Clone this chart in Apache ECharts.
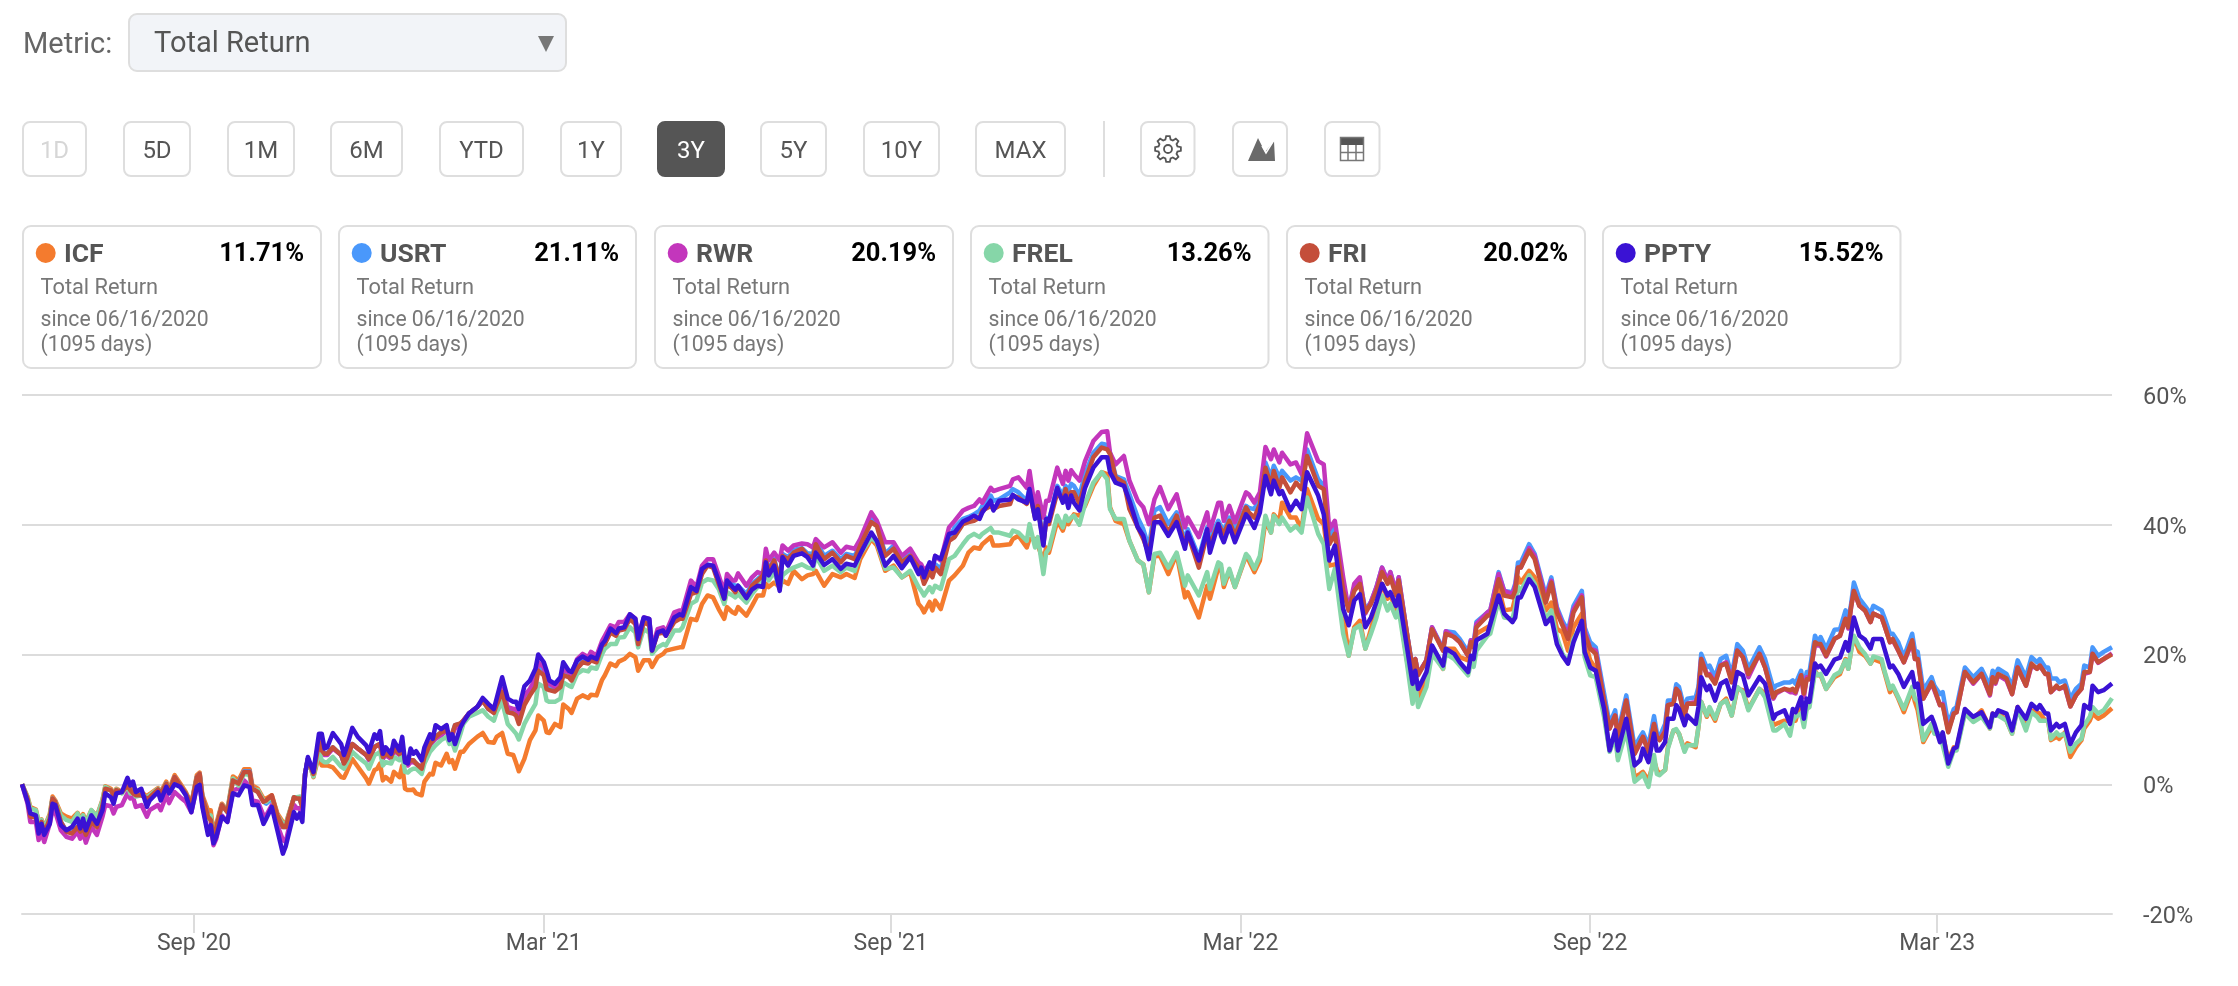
<!DOCTYPE html>
<html><head><meta charset="utf-8">
<style>html,body{margin:0;padding:0;background:#fff}#c{width:2238px;height:986px}</style>
<script src="https://cdn.jsdelivr.net/npm/echarts@6/dist/echarts.min.js"></script>
</head><body><div id="c"></div>
<script>
const sessions=[0,2,3,5,6,7,8,10,11,12,14,16,18,20,21,22,23,25,27,29,30,32,33,34,36,38,39,40,41,43,45,46,49,50,52,53,55,57,59,61,63,64,65,67,68,69,70,72,74,76,78,80,82,83,85,87,88,90,92,94,95,98,99,100,101,102,103,105,107,
108,109,110,112,115,116,117,119,121,124,125,127,128,129,130,131,133,134,136,137,138,139,140,141,142,144,145,147,148,149,151,153,154,155,156,158,159,161,164,166,168,170,171,173,175,177,178,179,181,183,185,186,188,189,190,192,194,195,197,198,200,202,204,205,207,209,210,212,214,215,
217,219,221,222,224,226,227,229,231,232,235,237,238,241,243,245,247,249,251,253,254,256,257,258,261,263,265,267,268,269,271,273,274,276,278,281,283,285,286,289,292,295,297,300,302,306,308,311,314,317,320,323,
324,325,327,328,329,331,334,336,339,341,343,345,346,349,350,352,356,357,359,362,363,365,366,368,369,370,373,375,376,377,378,379,381,383,386,389,391,392,394,397,399,402,404,406,408,410,413,416,419,420,424,427,428,431,
432,433,435,437,441,442,444,446,448,450,451,453,454,457,459,461,463,467,469,471,473,476,478,480,482,484,486,488,490,492,493,495,496,499,501,502,503,506,508,512,513,516,518,521,522,523,524,528,529,532,534,537,538,539,
540,543,545,549,551,553,555,557,559,562,563,565,567,570,572,574,575,578,581,583,584,586,588,589,590,592,593,595,596,597,599,600,603,604,605,607,608,610,612,614,616,618,620,622,626,628,631,632,635,637,638,639,641,642,643,644,646,647,
648,650,653,655,657,658,659,660,662,664,666,667,670,671,673,674,676,678,681,682,683,685,688,689,691,692,694,696,697,700,703,706,709,710,711,712,715,717,719,722,724,726,727,729,730,731,733,734,736,738,740,742,743,745,746,748,750,753];

const icf=[0,-1.9,-3.5,-3.9,-5.8,-5.4,-6.7,-4.6,-1.9,-2.5,-4.5,-5,-5.3,-4.4,-5.3,-4.6,-5.8,-4,-4.9,-2.4,-0.3,-0.7,-1.4,-0.7,-1.2,0.1,-0.4,-0.7,-1.4,-1.2,-1.9,-1.5,-0.6,-1.2,0.4,-0.8,1.4,0.1,-1.2,-3,1.4,1.8,-1.7,-4,-4,-7.6,-6.1,-3,-4,1.2,0.6,2.3,2.3,-0.2,-0.7,-2.2,-2.2,-1.7,-4.5,-5.8,-6.1,-2,-2,-2,-3.2,1.6,3.9,1.1,4.5,
2.9,2.9,2.9,2.6,1.1,1,1.9,3.9,2.7,0.9,0.1,2.2,2.4,3.2,0.6,1.1,0.4,1.9,1.1,2.9,-0.7,-0.9,-0.9,-0.8,-1.4,-1.7,0.4,1.6,1.5,3.3,2.9,4.7,3.4,3.7,2.4,5,5,6.2,7.3,7.9,6.5,6.4,7.3,7.9,4.7,4.5,3.3,2,3.9,6.8,8.3,10.6,9.8,8,7.9,9.3,8.8,12.3,11.6,11,13.2,13.7,13.3,13.8,13.7,16.1,16.8,18.6,18.2,18.9,
19.3,20.1,19.6,17.5,19.1,19.1,18.1,19.6,20.1,20.6,20.9,21.1,21.1,25.5,25.3,27.8,29.1,28.8,27,25.5,27.3,26.5,26.3,27.3,26,27.5,29.1,29.1,30.9,30.4,31.1,30.4,31.4,30.9,32.9,31.6,32.2,32.4,32.9,30.6,32.4,31.9,32.4,31.8,34.7,37.8,36.8,32.9,33.7,31.9,32.7,27.8,
27.3,26.5,28.1,26.8,28.3,27,31.4,32.2,33.7,35.7,36.5,36.3,37,38.1,36.8,36.8,37,37.8,38.3,36.5,37.8,37.8,36.8,34.5,36.5,35.7,40.6,39.1,40.4,40.1,40.9,41.6,41.4,42.9,46,48.1,47.8,42.7,40.6,40.1,37.5,34.5,33.9,29.6,35.2,35.2,32.4,35.5,28.8,29.6,25.7,30.6,28.6,33.4,
33.4,30.4,32.9,30.4,35.2,34.5,32.7,34.5,40.6,38.8,41.6,40.6,43.4,41.1,41.1,39.3,45.5,40.9,40.1,33.7,33.9,26.3,19.8,24.2,25.2,20.9,23.9,27,30.9,28.6,29.3,26.8,27.8,19.1,14,16.5,13.4,16,20.6,17.8,20.9,20.9,19.6,19.1,19.6,18.8,23.2,24.2,24.5,30.4,26.8,27,28.8,31.9,
31.1,32.9,31.9,26.8,28,24,23.4,20.6,24.2,26.3,22.2,19.1,17.8,10.9,5.2,7.8,4.2,9.3,1.1,1.6,1.9,0.6,3.7,2.2,1.6,2.2,5.7,8.3,8.3,7.8,5.2,6.3,5.7,8.8,12.7,10.4,11.4,9.8,12.4,13.2,10.6,14.7,14.5,11.6,14.7,14,9.1,9.3,9.8,9.8,9.8,9.8,12.9,11.4,11.6,12.7,17.5,16.8,
16.8,14.7,16.5,17,19.3,17.8,20.6,22.7,20.4,19.8,18.6,19.3,18.8,17.3,14.2,15,13.2,11.1,14.5,12.7,11.4,6.5,8.8,8,7.3,7.8,3.7,5.7,5.5,11.1,10.1,11.4,8.6,10.9,10.6,11.1,9.8,7.8,11.9,9.1,11.4,11.1,10.9,9.8,9.8,6.8,7.3,7,8,4.2,5.7,6.8,8.6,9.8,10.9,10.1,10.6,11.71];

const usrt=[0,-2.2,-4.9,-5,-7.1,-5.8,-7.6,-5.3,-2.2,-2.7,-5.8,-7.2,-7.5,-6.5,-7.2,-6.5,-7.7,-5.7,-6.5,-3.2,-0.7,-0.9,-1.7,-1,-1.2,-0.2,-0.9,-1.4,-1.7,-1.6,-2.2,-2,-0.8,-1.4,0.1,-1.2,1.1,-0.2,-1.4,-3.2,1.1,1.6,-2,-4.9,-5.5,-8.1,-6.6,-3.2,-4.3,0.7,0.2,2,2,-0.6,-1.1,-2.7,-3,-2.2,-4.8,-6.6,-6.6,-2,-2.2,-2.2,-3.5,1.6,3.9,1.6,6.8,
5.2,4.7,4.8,5.7,4.5,3.2,3.9,6.2,5.5,4.5,3.8,5.8,6,6.2,4.2,4.7,4.2,5.5,4.7,5.7,3.7,3.3,3.7,3.7,3.2,2.4,4.2,6.2,6.7,7.3,8,8.3,7.5,7.8,9.1,9.3,9.8,10.9,11.9,12.9,11.6,11.1,12.2,14.2,11.6,11.1,11.1,9.8,12.7,14.2,15.7,18.3,17.3,15.5,15,14.7,15.2,17,16.8,16.3,18,19,18.8,19.1,19.1,21.5,21.9,23.7,23.2,23.7,
24.2,25.7,25,22.2,25.5,25.2,20.6,23.4,23.7,23.2,25.2,25.7,25.7,29.6,29.8,32.9,33.9,33.7,31.1,28.8,31.1,30.9,30.6,30.6,29.3,30.9,31.6,32.4,34.7,33.2,34.7,31.6,35.5,35,36.1,36.4,35.6,35.5,37.5,35.2,36,34.7,35.5,35.2,37,41.1,40.1,35.5,36.8,34.5,35.5,33.7,
32.9,31.9,33.2,32.4,33.9,33.2,37.8,39.6,40.9,41.2,41.6,42.2,42.9,44.5,43.7,43.9,45,45.5,45,43.7,45.7,42.2,43.2,37.3,41.1,40.6,46,44.5,46,45.2,46.3,46,44.5,47.8,51.1,52.5,52.3,51.1,47.5,47,44.7,41.1,39.3,36.5,42.2,42.7,40.1,41.9,37.5,39.3,35,39.6,38.1,40.6,
39.8,39.1,41.1,39.3,42.9,42.6,42.4,44.2,49.6,47.3,49.1,47.3,48.3,46.8,47.3,46.8,51.6,47,46,38.1,39.6,30.4,27.3,30.4,31.4,26.8,28.1,30.4,33.4,31.4,32.7,29.6,31.9,23.2,18.1,19.3,17,19.1,24.2,20.9,23.6,23.4,22.4,20.4,22.2,21.6,25,26.5,26.8,32.7,29.8,29.6,30.9,34.2,
34.2,37,35.5,29.1,31.9,27.3,25.2,23.7,27.5,29.8,24.2,21.9,21.1,14,9.3,11.4,8,13.7,5.7,7.3,8,6,10.5,8,7.3,9.3,12.9,12.9,15.4,15,11.6,13.2,13.4,15,20.1,18,18.3,16.5,19.3,19.8,16.8,21.6,20.6,17.8,21.1,19.3,14.7,15.2,15.7,15.7,16,15.5,17.5,14.7,17.3,17.3,22.9,21.9,
22.7,20.9,23.8,23.9,26.8,25.2,27.8,31.1,28.6,27.5,26.3,27.5,26.8,25.7,23.2,23.2,21.9,19.6,23.2,20.6,20.4,14.5,16.5,15.2,13.9,14.2,9.3,11.6,11.9,18,16.5,17.8,15.2,17.5,17,17.8,17,15,19.1,16.5,19.6,18.8,19.3,18,18,16.3,16.3,15.7,16,13.2,14.7,15.5,18.3,18,21.1,19.8,20.4,21.11];

const rwr=[0,-3,-5.8,-5.8,-8.6,-7.3,-8.9,-6.1,-4,-4.3,-7.1,-8.1,-8.4,-7.3,-8.4,-7.3,-9,-6.6,-7.8,-5,-3.2,-3.4,-4.5,-3.5,-3.2,-1.4,-2.2,-2,-3.5,-3.2,-5,-4,-3.2,-4,-1.7,-2.9,-1.2,-2,-2.7,-4.3,-0.4,-0.2,-3.2,-7.3,-6.6,-9.4,-8.4,-4.8,-5.8,-0.9,-0.7,0.6,-0.2,-2.5,-2.7,-4.8,-4.8,-3.2,-6.3,-8.6,-8.9,-3.2,-3.7,-3.7,-4.8,1.6,3.9,1.6,7,
4.7,4.5,4.5,5.5,4.5,3.4,4.2,6.2,5.5,4.5,3.7,5.7,6,6.2,3.9,4.5,3.9,5.2,4.5,5.5,3.4,2.9,3.4,3.4,3.2,2.4,4.2,6,6.5,7,7.5,8.3,7.3,7.5,8.6,9.1,9.8,10.9,11.9,12.9,11.9,11.1,12.2,14.7,11.9,11.6,11.6,10.6,13.7,14.7,16.3,18.8,18,16.3,15.5,15,15.7,17.6,17.3,16.8,19.3,20.1,19.6,20.4,19.8,22.1,22.9,24.5,24.2,25,
25,26.2,25.5,22.7,25.7,25.5,21.1,23.9,24.2,23.4,26.5,26.8,26.8,31.4,30.4,33.7,34.7,34.7,32.2,29.6,32.4,31.4,31.4,32.5,30.6,31.9,32.7,32.4,36.3,34.5,35.7,34.5,36.8,36,36.8,37.1,37,36.5,37.8,36.5,37.3,35.7,36.6,36.3,37.8,41.9,40.6,37.3,37.3,35.2,36.3,34.2,
33.9,32.9,33.9,33.2,35.2,34.5,39.6,40.6,42.2,42.6,42.9,43.9,43.4,45.7,45.2,45.5,46,47,47.3,45.7,48.3,42.4,45,41.1,43.7,43.7,48.8,46.3,48.3,46.8,48.4,47.8,46.8,49.8,52.9,54.3,54.4,51.1,49.3,50.6,46.8,43.7,42.7,40.1,43.9,45.8,42.4,44.7,39.6,41.1,38.1,41.9,39.1,43.4,
43.4,40.6,42.9,40.4,45,44.7,43.4,45,52,50.1,51.6,49.6,51.1,49.3,49.6,47.8,54.1,49.8,49.3,39.3,40.6,31.9,26.8,30.9,31.9,26.3,28.1,30.4,33.4,31.4,32.7,29.6,31.9,23.2,17.5,19.3,17,19.1,24.2,20.6,23.6,22.7,21.9,19.8,22.2,21.4,24.7,26.5,26.8,32.4,29.8,29.3,30.6,33.4,
33.4,36.4,35.2,28.6,31.4,27,24.7,23.2,27,29.1,23.7,20.9,20.6,12.9,8.6,10.6,7.3,12.9,4.7,6.3,7.3,5.2,9.3,7.3,6.8,8.3,12.2,12.4,14.7,14.2,10.6,12.4,12.7,14,19.3,17,17,15.7,18.3,18.8,16,20.6,19.6,16.5,20.1,18,13.2,14,14.7,14.2,14.2,14,16.8,13.4,16.5,16.2,21.6,21.4,
21.4,19.7,22.4,22.9,25.5,24,27.3,29.8,27.5,26.8,25,26.3,25.7,24.5,21.9,22.2,20.6,18.8,21.9,19.3,19.3,13.2,15.5,14.5,12.2,12.4,8.3,10.9,11.1,17.3,15.5,17,13.7,16.5,15.5,16.8,16,13.9,18,15.2,18.3,17.8,18.3,17,17,14.2,15,14.7,15,12,13.7,14.7,17,17.3,20.1,18.7,19.3,20.19];

const frel=[0,-2,-3.7,-4,-5.8,-5.5,-6.8,-4.8,-2.2,-2.7,-4.8,-5.5,-5.8,-4.5,-5.8,-4.8,-6.1,-4,-5,-2.5,-0.4,-0.9,-1.7,-0.8,-1.4,-0.2,-1.4,-1.2,-1.9,-1.7,-2,-1.7,-0.7,-1.4,0.1,-0.9,0.9,-0.2,-1.4,-3.2,1,1.4,-2.2,-5.3,-4.8,-8.4,-6.6,-3.2,-4.1,0.9,-0.2,1.6,1.4,-0.9,-0.9,-2.5,-2.7,-1.9,-4.8,-6.1,-6.3,-2,-2,-1.9,-3,1.6,3.9,1.2,5.2,
3.7,3.4,3.4,4.2,2.7,2.4,3.2,5,4.2,3.2,2.4,4.5,4.7,5,2.9,3.4,3.2,4.2,3.7,4.5,1.9,1.8,2.2,2.4,2.4,1.6,3.2,5,5.5,6,6.8,7.3,6.2,6.5,5.2,7.8,9.3,10.4,11,11.4,10.4,9.8,11.1,12.7,9.3,8.3,7.8,6.9,9.3,10.9,12.4,15.5,15,12.9,12.7,12.7,13.2,15.7,15.2,15,17,17.6,17.4,18,17.8,20.1,20.9,21.6,21.6,22.6,
22.7,24.2,23.4,21.1,23.9,23.4,20.1,21.1,21.6,21.4,23.7,23.7,24.2,27.8,28.3,31.1,31.6,31.4,30.1,27.8,29.6,29.1,28.8,29.3,28,29.3,30.4,31.6,32.7,31.4,32.7,30.1,32.2,32.9,33.4,33.9,33.4,33.2,35.2,32.9,33.7,32.7,33.4,32.9,35.5,38,37.3,33.2,33.4,31.9,32.9,30.4,
29.8,29.1,30.4,29.6,30.6,30.1,34.7,35.2,37,38.1,38.6,38.1,38.6,39.5,38.8,38.8,38.3,39.1,38.8,37.5,40.1,36.5,38.1,32.4,35.7,36.3,41.4,39.6,41.4,40.6,41.1,41.4,40,43.2,46.5,48.1,47,42.4,40.9,40.9,37.5,34.5,33.9,29.6,35.5,35.7,33.4,35.7,30.6,32.2,29.1,32.7,30.1,34.2,
33.9,30.9,33.2,30.4,35.5,35,33.2,35.2,41.4,38.8,41.4,40.1,41.1,39.1,39.8,38.8,44.2,38.6,37,30.1,33.2,23.2,19.8,23.9,24.5,20.9,23.2,25.7,29.1,26.8,27.8,25.7,27,18.6,12.4,15.5,11.9,15,20.1,17.8,20.1,19.3,18.3,16.8,18.6,18.1,20.6,22.9,23.2,28.3,25.7,25.5,27.3,30.4,
29.8,32.2,30.9,25.5,26.8,22.7,20.1,18.8,22.4,24.7,19.6,16.8,16.5,10.4,5,7.3,3.7,8.3,0.4,1.1,1.6,-0.4,4.5,1.6,1.4,2.2,5.5,8.3,8.5,7.8,5,6,6,8.8,12.7,10.6,11.9,10.1,12.4,12.9,10.6,15,14.2,11.4,14.7,13.4,8.3,8.3,9.3,7.5,9.8,10.4,10.9,8.8,11.6,11.9,17.3,16.8,
17,14.7,16.8,17.3,19.1,17.8,20.6,22.9,21.1,20.1,18.6,19.7,19.3,17.5,14.7,15.2,13.4,11.6,15,13.2,12.7,6.8,9.3,7.8,7.8,6,2.7,5.2,5.2,10.9,9.6,10.4,8.6,10.4,10.6,10.6,9.8,7.8,11.6,8.3,11.1,10.4,9.8,9.8,9.8,7,8,7.5,7.8,5,6.3,7,9.1,10.4,11.9,10.9,11.4,13.26];

const fri=[0,-2.2,-5,-5.1,-7.1,-5.8,-7.6,-5.3,-2.2,-2.7,-5.8,-7.3,-7.6,-6.6,-7.3,-6.6,-7.8,-5.8,-6.6,-3.2,-0.7,-0.9,-1.7,-0.9,-1.2,-0.2,-0.9,-1.4,-1.7,-1.7,-2.2,-2,-0.8,-1.4,0.1,-1.2,1.1,-0.2,-1.4,-3.2,1.1,1.6,-2,-5,-5.5,-8.1,-6.6,-3.2,-4.3,0.6,0.1,1.9,1.9,-0.7,-1.2,-2.7,-2.5,-1.7,-4.8,-6.6,-6.6,-2,-2.2,-2.2,-3.5,1.6,3.9,1.6,6.5,
5.2,4.7,4.7,5.7,4.5,3.2,3.9,6.2,5.5,4.5,3.9,5.7,6,6.2,4.2,4.7,4.2,5.5,4.7,5.7,3.7,3.3,3.7,3.7,3.2,2.4,4.2,6.2,6.8,7.3,8,8.3,7.5,7.8,9.1,9.4,9.8,10.9,11.9,12.9,11.6,11,12.2,14.2,11.1,10.9,10.6,9.3,12.2,13.7,15,17.5,16.8,14.7,14.5,14.3,15,16.8,16.5,16,17.8,18.8,18.6,19.1,18.8,21.4,21.6,23.4,22.9,23.7,
23.9,25.5,24.7,21.6,25,24.5,20.6,23.2,23.4,22.9,25,25.5,25.5,29.3,29.6,32.4,33.7,33.4,30.9,28.6,30.9,30.1,29.6,30.4,28.8,30.6,31.4,32.2,34.5,32.9,34.5,31.4,35.2,34.7,35.7,36.3,35.2,35,37,34.7,35.7,34.2,35.2,34.7,36.8,40.4,39.8,35.2,36.3,34.2,35.2,33.4,
32.4,30.9,32.7,31.9,33.4,32.4,37.5,38.1,40.1,40.4,40.6,41.1,42.2,42.9,42.4,42.9,43.2,44.5,44.2,43.2,45,41.1,42.9,37,40.6,40.1,45,43.7,45.5,43.9,45,45,43.2,46.8,50.4,51.9,51.6,50.9,47.3,46.5,42.4,39.6,37.8,35.5,41.1,41.4,38.8,41.4,36.8,38.6,33.4,38.6,37,40.1,
39.3,38.6,40.6,38.3,42.7,41.9,41.1,43.2,48.8,46,48.3,45.7,47.3,45,46.5,45.5,50.6,46,45.5,37,38.6,29.8,26.8,29.8,30.9,26.5,27.8,29.8,32.7,30.9,31.9,29.1,31.4,23.2,17.8,19.3,16.8,19.1,23.9,20.6,23.2,22.7,21.9,19.8,21.9,21.1,24.2,26,26,31.6,29.1,28.8,29.8,33.4,
33.4,36,34.7,28,31.1,26.5,24.5,22.4,26.5,28.8,23.2,20.9,20.1,12.9,8.6,10.6,7.3,12.9,4.7,6.5,7.3,5,9.3,7.3,6.8,8.1,12.2,12.4,14.7,14.2,10.6,12.4,12.4,14,19.3,16.8,16.8,15.5,18.3,18.6,15.7,20.6,19.6,17,20.1,18,13.4,14.2,14.7,14.5,14.7,14.2,16.8,14,16.2,16.2,21.9,21.6,
21.6,19.8,22.4,22.9,25.5,24.2,27.3,29.8,27.5,26.8,25,26.3,25.7,24.5,21.9,22.4,20.6,18.8,22.2,19.3,19.3,13.2,15.7,14.7,12.2,12.2,8,10.9,11.1,17.3,15.7,17,13.9,16.5,15.7,17,16.3,13.9,18,15.2,18.6,17.8,18.3,17,17,14.2,15.2,14.7,15.2,12,13.7,14.7,17.3,17.3,20.1,18.8,19.3,20.02];

const ppty=[0,-2.7,-4.5,-4.8,-7.6,-6.1,-7.8,-6.1,-3,-3.2,-6.3,-7.1,-6.6,-5.3,-6.8,-5.3,-7.1,-4.8,-6.1,-4,-1.4,-2,-3,-1.4,-1.2,1,-0.2,0.4,-1.2,-0.7,-3.5,-2.5,-1.2,-2.5,-0.4,-1.4,0,-0.4,-1.7,-4.3,-0.4,-0.1,-3.5,-7.8,-6.3,-9.1,-8.1,-5,-5.8,-1.4,-1.7,-0.2,-0.4,-3.2,-3.2,-6.1,-5.3,-3.5,-7.1,-10.7,-9.6,-4.3,-5.3,-4.5,-5.8,1.6,4.2,1.9,7.8,
7.8,5.5,5.7,7.9,6.2,4.5,5.7,8.7,7.3,6,5,7.7,7,8.2,4.7,5.7,4.7,6.7,5.2,7.3,3.4,3.2,5.5,4.7,5.1,3.7,5.7,7.7,7,9.1,8.5,9.1,6.8,7.7,6.2,8.8,9.6,10.9,11.9,13.3,12.4,11.6,13.2,16.5,13.2,12.7,12.7,11.6,15.1,16,17.8,20,18.8,17.5,16,15.5,16.5,18.8,17.5,17.3,19.1,19.7,19.2,19.7,19.3,21.6,22.1,24,23.3,24,
24.2,26.2,25.5,22.4,25.7,25.5,20.6,23.4,23.7,22.9,25.7,26.2,26,30.4,29.8,33.2,33.8,33.7,31.4,28.6,31.4,30.4,30,30.6,28.7,30,30.6,30.4,34.2,32.2,33.7,29.8,35,33.7,35.2,35.6,35,33.7,35.7,33.8,34.7,33.2,34,33.7,35.5,38.8,37.5,33.7,35.2,33.3,35,32.4,
33.4,31.9,34.2,33.2,35.2,34.7,38.6,38.8,40.5,40.9,41.4,40.9,41.9,43.7,42.2,43.7,43.9,44.6,43.9,43.4,45.5,40.9,42.4,36.8,40.9,40.6,45.7,43.4,44.5,42.6,44.5,43.4,42.2,45.7,48.8,50.4,50.4,48.1,46.5,46,43.7,39.6,38.3,34.7,40.4,40.4,38.3,40.4,36.3,38.8,34.5,39.3,35.7,40.1,
38.3,37.3,39.8,37.3,41.6,41.1,39.5,41.9,47.5,44.7,46.8,44.7,45.2,42.2,43.7,42.4,48.1,44.5,41.6,34.5,36.8,27,24.5,28.3,29.3,24.2,25.7,28.1,30.9,29.1,29.6,27.5,29.1,21.1,15.5,17.5,14.7,17.3,21.4,18.3,20.9,20.1,18.8,17.3,19.8,19.3,22.2,23.2,24.7,29.1,26.3,25,25.7,28.8,
28.8,31.6,30.4,24.7,25.7,21.6,19.8,18.6,21.9,25.2,20.4,18,17.5,11.6,5.2,8.3,5.2,10.1,2.9,3.7,5.5,3.4,7.8,5.2,5.2,6.5,10.1,10.1,12.2,11.6,9.1,10.6,9.3,11.9,16.5,14.5,15.2,12.9,15.5,16,13.2,17.3,16.8,13.7,16.5,15.5,10.1,10.8,11.4,9.3,11.6,11.1,13.4,10.1,13.2,12.7,18.6,18,
18.3,17,19.2,19.5,21.9,20.6,23.2,25.7,22.9,22.3,20.9,22.4,22.4,20.9,18,18.3,17,15,17.3,15,15.5,9.3,10.4,9.3,6.5,8,3.2,5.5,5.7,11.6,10.4,11.1,8.8,10.9,10.6,11.4,10.9,8.3,11.9,10.1,12.4,11.6,12.2,10.9,10.9,8.3,9.3,8.8,9.3,6.2,8,9.1,12.2,11.6,15.2,14.2,14.5,15.52];

const tickSessions=[62,188,313,439,565,690];
const tickLabels=["Sep '20","Mar '21","Sep '21","Mar '22","Sep '22","Mar '23"];
const yTicks=[-20,0,20,40,60];
const tickers=["ICF","USRT","RWR","FREL","FRI","PPTY"];
const returns=["11.71%","21.11%","20.19%","13.26%","20.02%","15.52%"];
const palette=["#f47b2e","#4a98fb","#c336bc","#86d6a8","#c44e3a","#3a12d4"];
const seriesValues=[icf,usrt,rwr,frel,fri,ppty];
const rangeButtons=["1D","5D","1M","6M","YTD","1Y","3Y","5Y","10Y","MAX"];
const rangeBounds=[[23,86],[124,190],[228,294],[331,402],[440,523],[561,621],[658,724],[761,826],[864,939],[976,1065]];
const iconBounds=[[1141,1194.5],[1233,1287],[1325,1379.5]];
const cardBounds=[[23,321],[339,636],[655,953],[971,1268.5],[1287,1585],[1603,1900.5]];

const FONT='Roboto, sans-serif', BORDER='#dedede';
const g=[];
function txt(x,y,text,size,fill,opt){opt=opt||{};g.push({type:'text',silent:true,style:{x:x,y:y,text:text,fill:fill,
  font:(opt.bold?'bold ':'')+size+'px '+FONT,align:opt.align||'left',verticalAlign:'middle',textAlign:opt.align||'left',textVerticalAlign:'middle'}});}
function box(x0,y0,x1,y1,fill,r,stroke){g.push({type:'rect',silent:true,shape:{x:x0,y:y0,width:x1-x0,height:y1-y0,r:r},style:{fill:fill,stroke:stroke||BORDER,lineWidth:2}});}

txt(23,45.5,'Metric:',29,'#666');
box(129,14,566,71,'#f2f4f8',8);
txt(154,45,'Total Return',29,'#555');
g.push({type:'polygon',silent:true,shape:{points:[[538,36],[554,36],[546,52]]},style:{fill:'#777'}});

rangeButtons.forEach(function(b,i){
  const on=b==='3Y', off=b==='1D', r=rangeBounds[i];
  box(r[0],122,r[1],176,on?'#555':'#fff',7,on?'#555':BORDER);
  txt((r[0]+r[1])/2,151.5,b,24,on?'#fff':(off?'#d6d6d6':'#555'),{align:'center'});
});
g.push({type:'line',silent:true,shape:{x1:1104,y1:121,x2:1104,y2:177},style:{stroke:BORDER,lineWidth:2}});
iconBounds.forEach(function(r){box(r[0],122,r[1],176,'#fff',7);});

// gear icon
(function(){const pts=[],cx=1168,cy=149;for(let i=0;i<8;i++){const a=i*Math.PI/4-Math.PI/2;
  [-0.27,-0.14,0.14,0.27].forEach(function(d,j){const rr=(j===0||j===3)?9.8:13;pts.push([cx+rr*Math.cos(a+d),cy+rr*Math.sin(a+d)]);});}
  g.push({type:'polygon',silent:true,shape:{points:pts},style:{fill:'none',stroke:'#555',lineWidth:1.8}});
  g.push({type:'circle',silent:true,shape:{cx:cx,cy:cy,r:4},style:{fill:'none',stroke:'#555',lineWidth:1.8}});})();
// chart-type icon
g.push({type:'polygon',silent:true,shape:{points:[[1248,161],[1258,138],[1265,152],[1274,141],[1275,161]]},style:{fill:'#6a6a6a'}});
g.push({type:'polyline',silent:true,shape:{points:[[1262,146],[1266,153],[1274,140]]},style:{fill:'none',stroke:'#fff',lineWidth:1.5}});
// table icon
g.push({type:'rect',silent:true,shape:{x:1340,y:137,width:24,height:8},style:{fill:'#555'}});
g.push({type:'rect',silent:true,shape:{x:1340.5,y:137.5,width:23,height:23},style:{fill:'none',stroke:'#777',lineWidth:1.5}});
[1348,1356].forEach(function(x){g.push({type:'line',silent:true,shape:{x1:x,y1:145,x2:x,y2:160},style:{stroke:'#777',lineWidth:1.5}});});
g.push({type:'line',silent:true,shape:{x1:1340,y1:152.5,x2:1364,y2:152.5},style:{stroke:'#777',lineWidth:1.5}});

tickers.forEach(function(t,i){
  const c=cardBounds[i];
  box(c[0],226,c[1],368,'#fff',8);
  g.push({type:'circle',silent:true,shape:{cx:c[0]+22.7,cy:253,r:10},style:{fill:palette[i]}});
  txt(c[0]+41,255,t,26.5,'#555',{bold:true});
  txt(c[1]-17,255,returns[i],25.5,'#000',{bold:true,align:'right'});
  txt(c[0]+17.5,288.5,'Total Return',21.8,'#777');
  txt(c[0]+17.5,320.5,'since 06/16/2020',21.2,'#777');
  txt(c[0]+17.5,345.5,'(1095 days)',21.2,'#777');
});

const chart=echarts.init(document.getElementById('c'),null,{width:2238,height:986});
chart.setOption({
  animation:false,
  backgroundColor:'#fff',
  graphic:{elements:g},
  grid:{left:22,right:126,top:395,bottom:72,containLabel:false},
  xAxis:{type:'value',min:0,max:753,splitLine:{show:false},
    axisLine:{show:true,onZero:false,lineStyle:{color:'#dcdcdc',width:2}},
    axisTick:{show:true,length:19,customValues:tickSessions,lineStyle:{color:'#dcdcdc',width:2}},
    axisLabel:{show:true,customValues:tickSessions,margin:19,fontFamily:'Roboto',fontSize:23,color:'#555',
      formatter:function(v){return tickLabels[tickSessions.indexOf(v)];}}},
  yAxis:{type:'value',position:'right',min:yTicks[0],max:yTicks[yTicks.length-1],interval:20,
    axisLine:{show:false},axisTick:{show:false},
    splitLine:{show:true,lineStyle:{color:'#dcdcdc',width:2}},
    axisLabel:{margin:31,verticalAlign:'top',lineHeight:6,fontFamily:'Roboto',fontSize:23.5,color:'#555',formatter:'{value}%'}},
  series:tickers.map(function(t,i){return {name:t,type:'line',showSymbol:false,silent:true,smooth:false,
    lineStyle:{color:palette[i],width:4.5,join:'round'},itemStyle:{color:palette[i]},
    data:sessions.map(function(s,k){return [s,seriesValues[i][k]];})};})
});
</script></body></html>
